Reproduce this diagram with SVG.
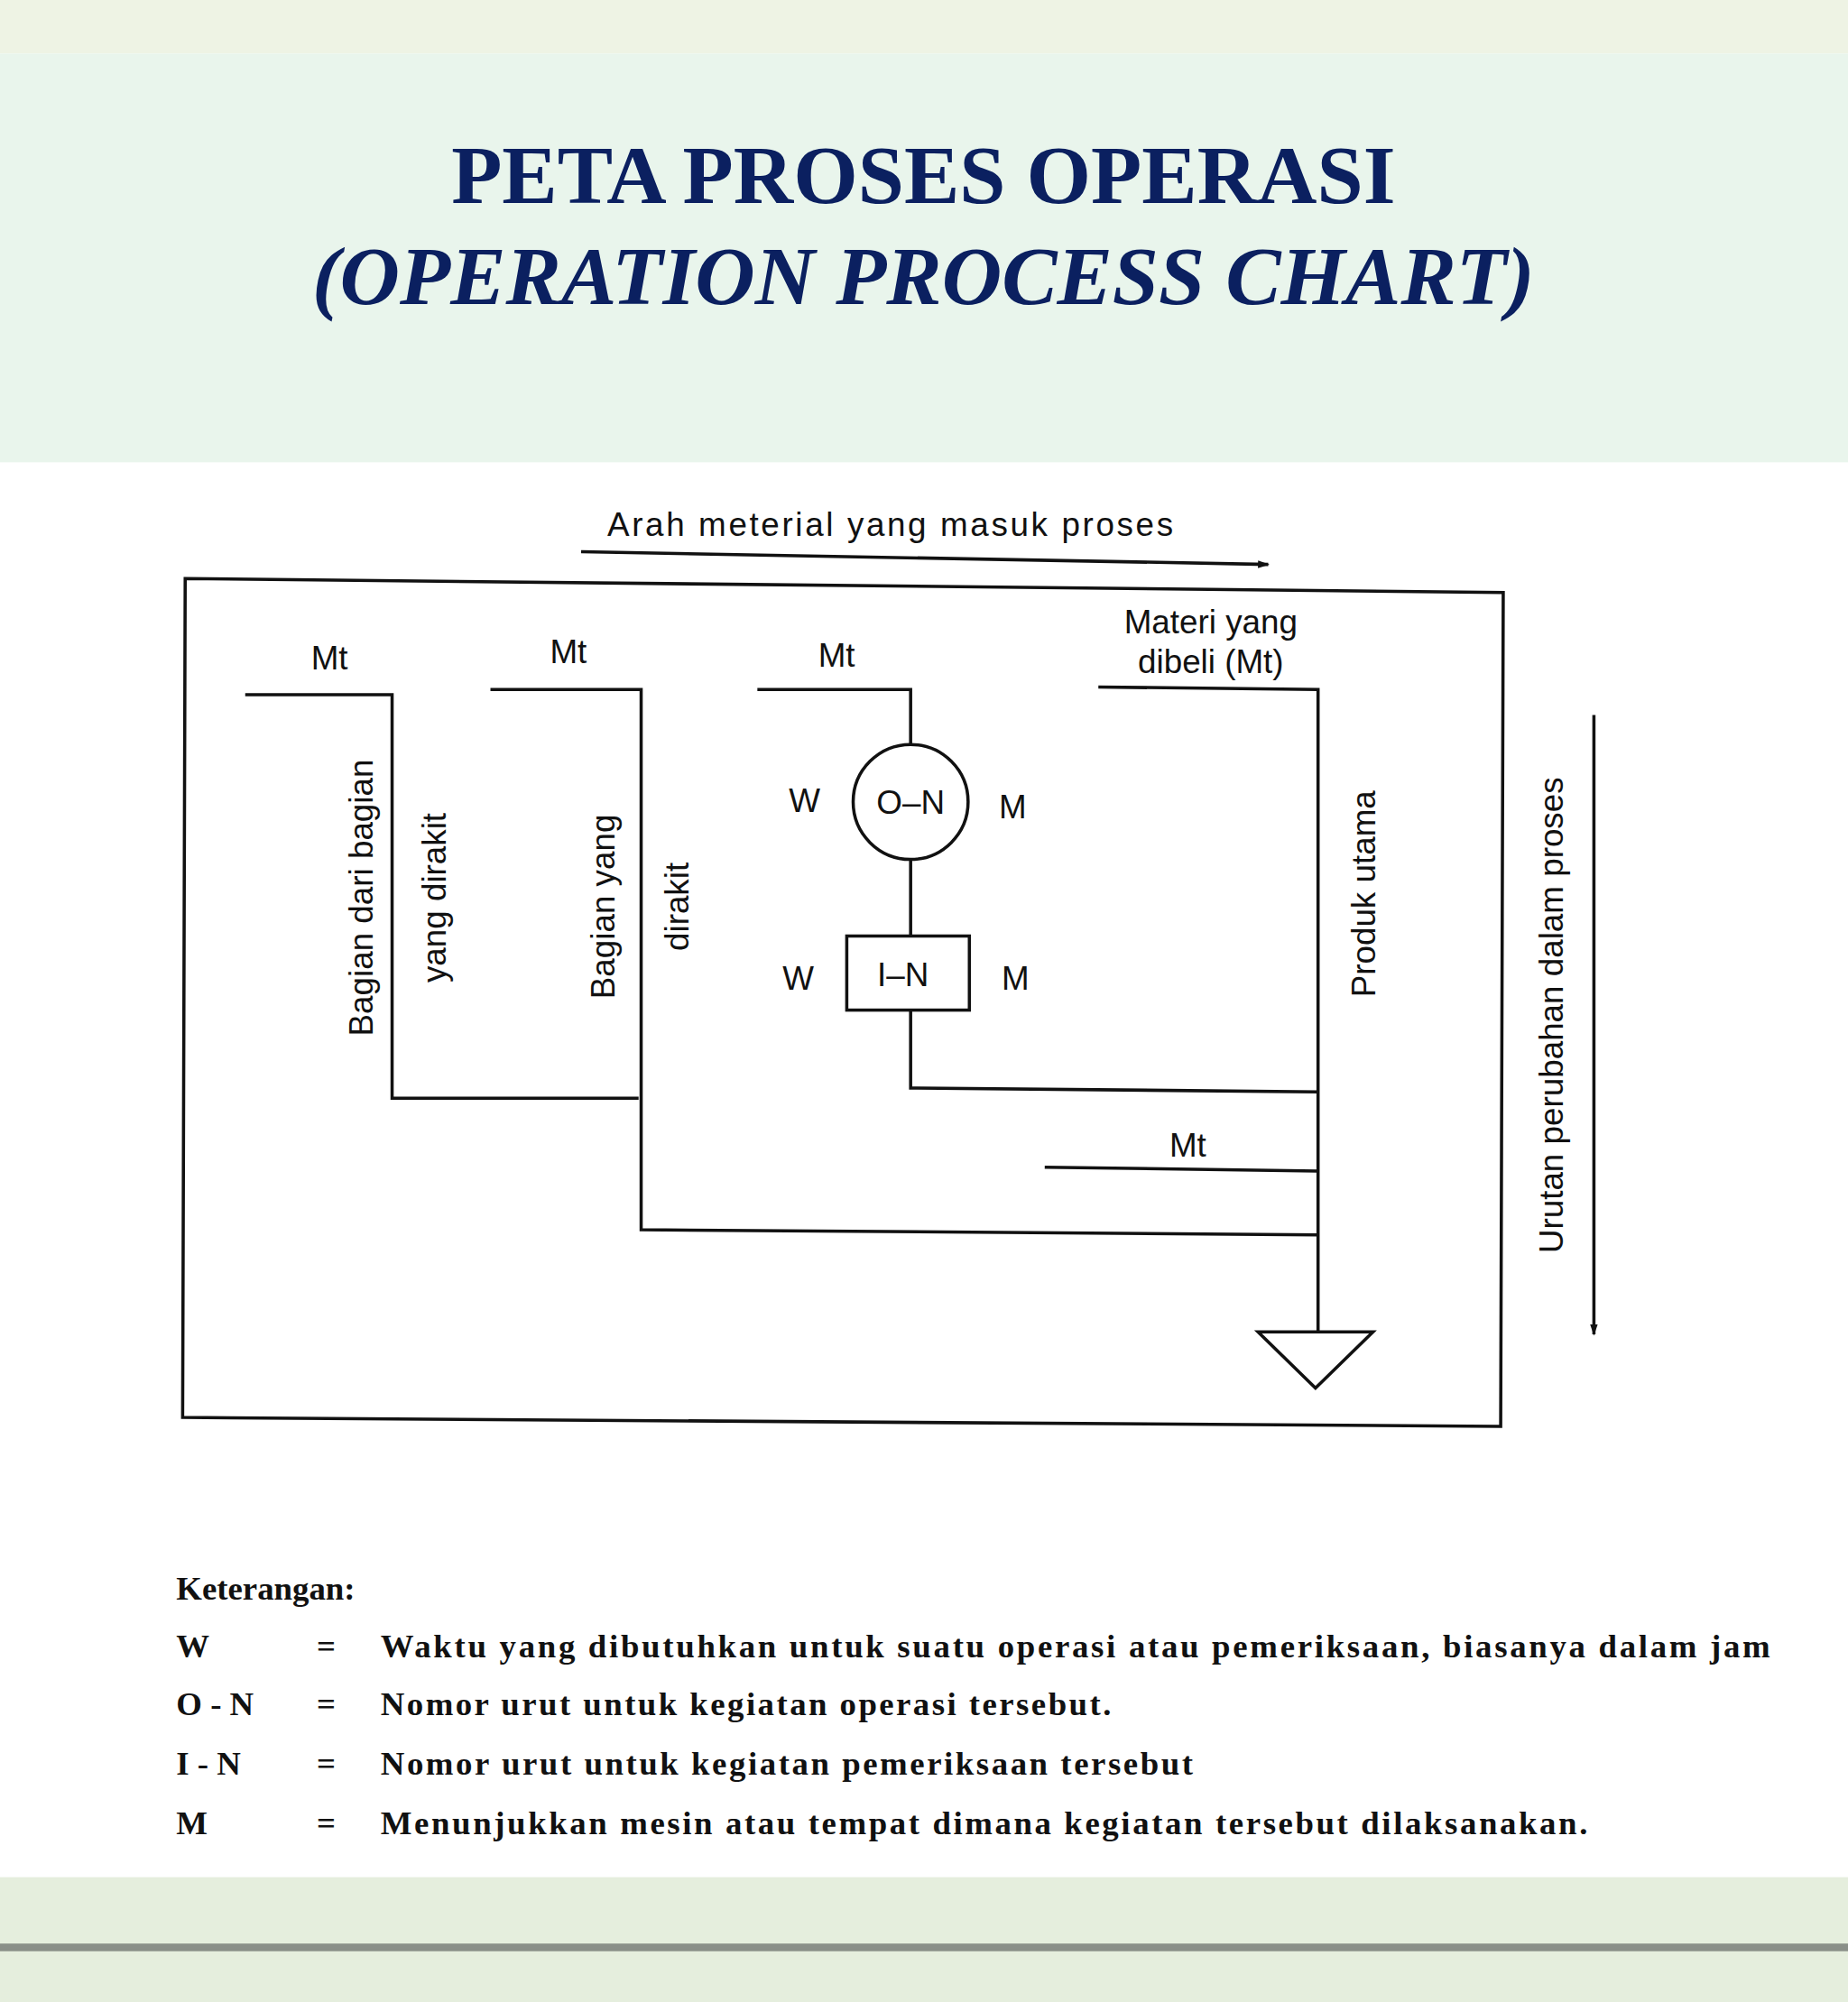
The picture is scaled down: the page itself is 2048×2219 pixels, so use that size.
<svg xmlns="http://www.w3.org/2000/svg" width="2048" height="2219" viewBox="0 0 2048 2219">
<style>
.ln{fill:none;stroke:#111;stroke-width:2.5}
.t{font-family:"Liberation Sans",Arial,sans-serif;font-size:26px;fill:#111}
.lg{font-family:"Liberation Serif","Times New Roman",serif;font-size:26px;font-weight:bold;fill:#111}
.ti{font-family:"Liberation Serif","Times New Roman",serif;font-size:65px;font-weight:bold;fill:#0b2060;text-anchor:middle}
</style>
<defs><marker id="ah" markerWidth="10" markerHeight="10" refX="8" refY="5" orient="auto" markerUnits="userSpaceOnUse"><path d="M0,2 L9,5 L0,8 Z" fill="#111"/></marker></defs>
<g transform="scale(1.4154)">
<rect x="0" y="0" width="1447" height="1568" fill="#ffffff"/>
<rect x="0" y="0" width="1447" height="42" fill="#eef3e4"/>
<rect x="0" y="42" width="1447" height="320" fill="#e9f5ec"/>
<rect x="0" y="1470" width="1447" height="98" fill="#e5eedd"/>
<rect x="0" y="1522" width="1447" height="6" fill="#8a8f88"/>
<g id="title">
<text class="ti" x="723" y="159">PETA PROSES OPERASI</text>
<text class="ti" x="723" y="238" font-style="italic">(OPERATION PROCESS CHART)</text>
</g>
<g id="frame"><path class="ln" d="M145,453 L1177,464 L1175,1117 L143,1110 Z"/></g>
<g id="connectors">
<path class="ln" d="M455,432 L993,442" marker-end="url(#ah)"/>
<path class="ln" d="M192,544 H307 V860 H500"/>
<path class="ln" d="M384,540 H502 V963 L1032,967"/>
<path class="ln" d="M593,540 H713 V584"/>
<path class="ln" d="M713,673 V733"/>
<path class="ln" d="M713,791 V852 L1032,855"/>
<path class="ln" d="M860,538 L1032,540 V1043"/>
<path class="ln" d="M818,914 L1032,917"/>
<path class="ln" d="M1248,560 V1045" marker-end="url(#ah)"/>
</g>
<g id="op"><circle class="ln" cx="713" cy="628" r="45"/><text class="t" x="713" y="637" text-anchor="middle">O–N</text></g>
<g id="insp"><rect class="ln" x="663" y="733" width="96" height="58"/><text class="t" x="707" y="772" text-anchor="middle">I–N</text></g>
<g id="store"><path class="ln" d="M985,1043 L1075,1043 L1030,1087 Z"/></g>
<g id="labels">
<text class="t" x="697" y="420" text-anchor="middle" textLength="443">Arah meterial yang masuk proses</text>
<text class="t" x="258" y="524" text-anchor="middle">Mt</text>
<text class="t" x="445" y="519" text-anchor="middle">Mt</text>
<text class="t" x="655" y="522" text-anchor="middle">Mt</text>
<text class="t" x="948" y="496" text-anchor="middle">Materi yang</text>
<text class="t" x="948" y="527" text-anchor="middle">dibeli (Mt)</text>
<text class="t" x="930" y="906" text-anchor="middle">Mt</text>
<text class="t" x="630" y="636" text-anchor="middle">W</text>
<text class="t" x="793" y="641" text-anchor="middle">M</text>
<text class="t" x="625" y="775" text-anchor="middle">W</text>
<text class="t" x="795" y="775" text-anchor="middle">M</text>
<text class="t" transform="translate(292,703) rotate(-90)" text-anchor="middle">Bagian dari bagian</text>
<text class="t" transform="translate(349,703) rotate(-90)" text-anchor="middle">yang dirakit</text>
<text class="t" transform="translate(481,710) rotate(-90)" text-anchor="middle">Bagian yang</text>
<text class="t" transform="translate(539,710) rotate(-90)" text-anchor="middle">dirakit</text>
<text class="t" transform="translate(1077,700) rotate(-90)" text-anchor="middle">Produk utama</text>
<text class="t" transform="translate(1224,795) rotate(-90)" text-anchor="middle">Urutan perubahan dalam proses</text>
</g>
<g id="legend">
<text class="lg" x="138" y="1253">Keterangan:</text>
<text class="lg" x="138" y="1298">W</text><text class="lg" x="248" y="1298">=</text><text class="lg" x="298" y="1298" textLength="1088">Waktu yang dibutuhkan untuk suatu operasi atau pemeriksaan, biasanya dalam jam</text>
<text class="lg" x="138" y="1343">O - N</text><text class="lg" x="248" y="1343">=</text><text class="lg" x="298" y="1343" textLength="572">Nomor urut untuk kegiatan operasi tersebut.</text>
<text class="lg" x="138" y="1390">I - N</text><text class="lg" x="248" y="1390">=</text><text class="lg" x="298" y="1390" textLength="636">Nomor urut untuk kegiatan pemeriksaan tersebut</text>
<text class="lg" x="138" y="1436">M</text><text class="lg" x="248" y="1436">=</text><text class="lg" x="298" y="1436" textLength="945">Menunjukkan mesin atau tempat dimana kegiatan tersebut dilaksanakan.</text>
</g>
</g>
</svg>
